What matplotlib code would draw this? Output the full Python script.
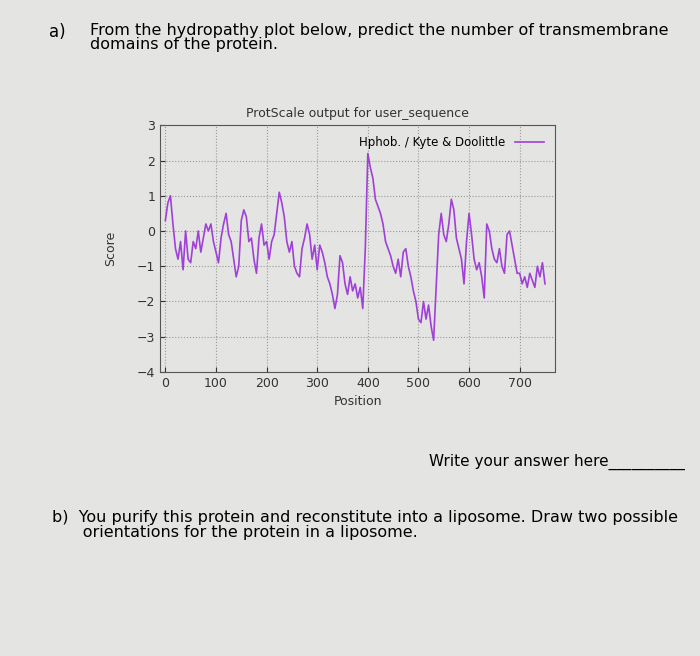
import matplotlib
matplotlib.use("Agg")
import matplotlib.pyplot as plt

positions = list(range(0, 755, 5))
scores = [0.3,0.8,1.0,0.2,-0.5,-0.8,-0.3,-1.1,0,-0.8,-0.9,-0.3,-0.5,0,-0.6,-0.2,0.2,0,0.2,-0.3,
          -0.6,-0.9,-0.2,0.2,0.5,-0.1,-0.3,-0.8,-1.3,-1.0,0.3,0.6,0.4,-0.3,-0.2,-0.8,-1.2,-0.2,0.2,-0.4,
          -0.3,-0.8,-0.3,-0.1,0.5,1.1,0.8,0.4,-0.3,-0.6,-0.3,-1.0,-1.2,-1.3,-0.5,-0.2,0.2,-0.1,-0.8,-0.4,
          -1.1,-0.4,-0.6,-0.9,-1.3,-1.5,-1.8,-2.2,-1.8,-0.7,-0.9,-1.5,-1.8,-1.3,-1.7,-1.5,-1.9,-1.6,-2.2,-0.5,
          2.2,1.8,1.5,0.9,0.7,0.5,0.2,-0.3,-0.5,-0.7,-1.0,-1.2,-0.8,-1.3,-0.6,-0.5,-1.0,-1.3,-1.7,-2.0,
          -2.5,-2.6,-2.0,-2.5,-2.1,-2.7,-3.1,-1.6,-0.1,0.5,-0.1,-0.3,0.2,0.9,0.6,-0.2,-0.5,-0.8,-1.5,-0.3,
          0.5,-0.1,-0.8,-1.1,-0.9,-1.3,-1.9,0.2,0.0,-0.5,-0.8,-0.9,-0.5,-1.0,-1.2,-0.1,0.0,-0.4,-0.8,-1.2,
          -1.2,-1.5,-1.3,-1.6,-1.2,-1.4,-1.6,-1.0,-1.3,-0.9,-1.5]
xticks = [0, 100, 200, 300, 400, 500, 600, 700]
yticks = [-4, -3, -2, -1, 0, 1, 2, 3]

bg = '#e4e4e2'
fig = plt.figure(figsize=(7, 6.56), dpi=100, facecolor=bg)
ax = fig.add_axes([0.229, 0.433, 0.564, 0.376], facecolor=bg)
n = min(len(positions), len(scores))
ax.plot(positions[:n], scores[:n], color='#a040d8', lw=1.2, label='Hphob. / Kyte & Doolittle')
ax.set_xlim(-10, 770)
ax.set_ylim(-4, 3)
ax.set_xticks(xticks)
ax.set_yticks(yticks)
ax.grid(True, ls=':', color='#999999', lw=0.8)
ax.tick_params(labelsize=9, colors='#333333', direction='in')
ax.set_xlabel('Position', fontsize=9, color='#333333')
ax.set_ylabel('Score', fontsize=9, color='#333333', labelpad=14)
ax.set_title('ProtScale output for user_sequence', fontsize=9, color='#333333')
ax.legend(loc='upper right', frameon=False, fontsize=8.5, markerfirst=False, handlelength=2.5)
for s in ax.spines.values():
    s.set_color('#555555')

fig.text(0.07, 0.965, 'a)', fontsize=12, va='top')
fig.text(0.128, 0.965, 'From the hydropathy plot below, predict the number of transmembrane\ndomains of the protein.',
         fontsize=11.5, va='top', linespacing=0.9)
fig.text(0.613, 0.296, 'Write your answer here__________', fontsize=11, va='center')
fig.text(0.075, 0.2, 'b)  You purify this protein and reconstitute into a liposome. Draw two possible\n      orientations for the protein in a liposome.',
         fontsize=11.5, va='center', linespacing=1.0)
fig.savefig('out.png', dpi=100, facecolor=bg)
